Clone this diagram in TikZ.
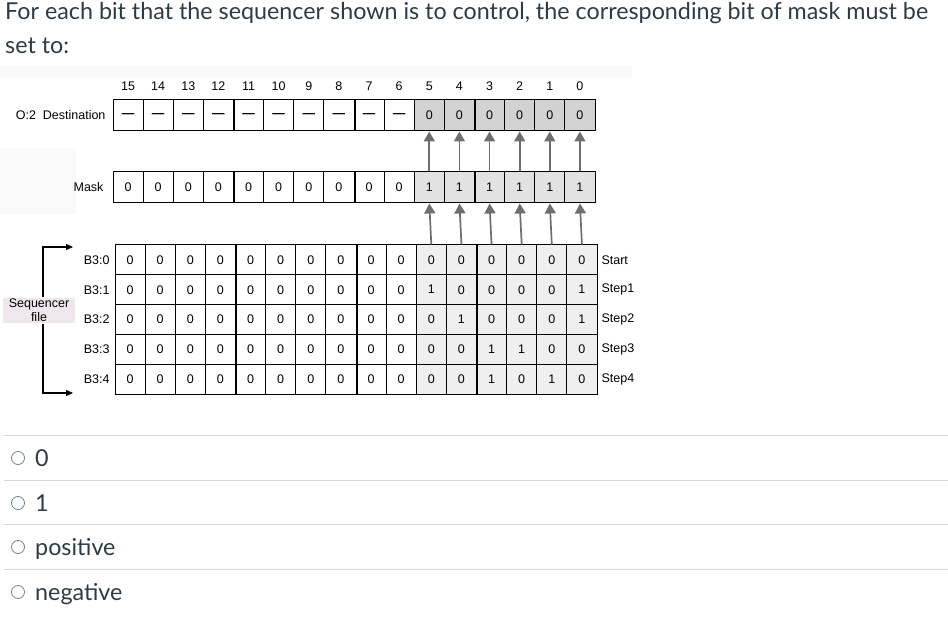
\documentclass[tikz,border=0pt]{standalone}
\usepackage{fontspec}
\setmainfont{Lato}
\newfontfamily\arialfont{Liberation Sans}
\usetikzlibrary{arrows.meta}
\definecolor{canvastext}{HTML}{2D3B45}
\definecolor{rulegray}{HTML}{D4D8DB}
\definecolor{radiogray}{HTML}{73818C}
\definecolor{destshade}{HTML}{D2D2D2}
\definecolor{maskshade}{HTML}{E2E2E2}
\definecolor{seqshade}{HTML}{EFEFEF}
\definecolor{arrowgray}{HTML}{6E6E6E}
\definecolor{dotbg}{HTML}{F9F9F9}
\definecolor{labelbg}{HTML}{EEE8EC}
\newcommand\difont{\arialfont\fontsize{12.5}{14}\selectfont}
\newcommand\qfont{\fontsize{23.3}{27}\selectfont}
\begin{document}
\begin{tikzpicture}[x=1pt,y=-1pt,
    cell/.style={draw, line width=1pt, minimum width=30.125pt, inner sep=0pt, font=\difont},
    uparrow/.style={draw=arrowgray, line width=1.7pt, -{Triangle[width=11pt,length=10pt]}},
    brarrow/.style={draw, line width=1.2pt, -{Triangle[width=6pt,length=7pt]}},
    heavy/.style={line width=2pt}]
    \useasboundingbox (0,0) rectangle (948,620);
    % question text
    \node[anchor=base west, font=\qfont, text=canvastext, inner sep=0pt] (q1) at (5,19.5)
        {For each bit that the sequencer shown is to control, the corresponding bit of mask must be};
    \node[anchor=base west, font=\qfont, text=canvastext, inner sep=0pt] (q2) at (5,53.5) {set to:};
    % faint scan background
    \fill[dotbg] (0,66) rectangle (632,77);
    \fill[dotbg] (0,148) rectangle (76,214);
    % bit numbers, destination and mask rows
    \foreach \b in {0,...,15} {
        \pgfmathsetmacro\cx{113+30.125*(15-\b+0.5)}
        \node[font=\difont] (n\b) at (\cx,86) {\b};
        \ifnum\b<6
            \node[cell, minimum height=31pt, fill=destshade] (d\b) at (\cx,115.5) {0};
            \node[cell, minimum height=31pt, fill=maskshade] (m\b) at (\cx,187.5) {1};
        \else
            \node[cell, minimum height=31pt] (d\b) at (\cx,115.5) {\bfseries —};
            \node[cell, minimum height=31pt] (m\b) at (\cx,187.5) {0};
        \fi
    }
    \foreach \b in {12,8,4} {
        \draw[heavy] (d\b.north east) -- (d\b.south east);
        \draw[heavy] (m\b.north east) -- (m\b.south east);
    }
    \node[anchor=east, font=\difont] (dest) at (109,115.5) {O:2\ \ Destination};
    \node[anchor=east, font=\difont] (mask) at (107,187.5) {Mask};
    % sequencer file
    \foreach \r/\vals/\step in {0/{0,0,0,0,0,0,0,0,0,0,0,0,0,0,0,0}/Start,
                               1/{0,0,0,0,0,0,0,0,0,0,1,0,0,0,0,1}/Step1,
                               2/{0,0,0,0,0,0,0,0,0,0,0,1,0,0,0,1}/Step2,
                               3/{0,0,0,0,0,0,0,0,0,0,0,0,1,1,0,0}/Step3,
                               4/{0,0,0,0,0,0,0,0,0,0,0,0,1,0,1,0}/Step4} {
        \pgfmathsetmacro\cy{245+29.8*(\r+0.5)}
        \foreach \v [count=\c from 0] in \vals {
            \pgfmathtruncatemacro\b{15-\c}
            \pgfmathsetmacro\cx{115+30.125*(\c+0.5)}
            \ifnum\b<6
                \node[cell, minimum height=29.8pt, fill=seqshade] (s\r-\b) at (\cx,\cy) {\v};
            \else
                \node[cell, minimum height=29.8pt] (s\r-\b) at (\cx,\cy) {\v};
            \fi
        }
        \node[anchor=east, font=\difont] (b\r) at (113,\cy) {B3:\r};
        \node[anchor=west, font=\difont] (st\r) at (598,\cy) {\step};
        \foreach \b in {12,8,4}
            \draw[heavy] (s\r-\b.north east) -- (s\r-\b.south east);
    }
    % arrows through the mask
    \foreach \b in {0,...,5} {
        \draw[uparrow] (m\b.north) -- (d\b.south);
        \draw[uparrow] (s0-\b.north) -- (m\b.south);
    }
    % sequencer bracket
    \node[fill=labelbg, font=\difont, align=center, inner sep=1.5pt, minimum width=72pt] (seqfile) at (39,310.5)
        {Sequencer\\file};
    \coordinate (brtop) at (73,247);
    \coordinate (brbot) at (73,393);
    \draw[brarrow] (seqfile.north -| 43,0) |- (brtop);
    \draw[brarrow] (seqfile.south -| 43,0) |- (brbot);
    % answer choices
    \foreach \y in {435,480,524,569}
        \draw[rulegray, line width=0.8pt] (4,\y) -- (948,\y);
    \foreach \y/\t [count=\i] in {458/0, 503/1, 547/positive, 592/negative} {
        \node[circle, draw=radiogray, line width=0.8pt, minimum size=13pt, inner sep=0pt] (r\i) at (18,\y) {};
        \node[anchor=base west, font=\qfont, text=canvastext, inner sep=0pt] (a\i) at (35,\y+8) {\t};
    }
\end{tikzpicture}
\end{document}
